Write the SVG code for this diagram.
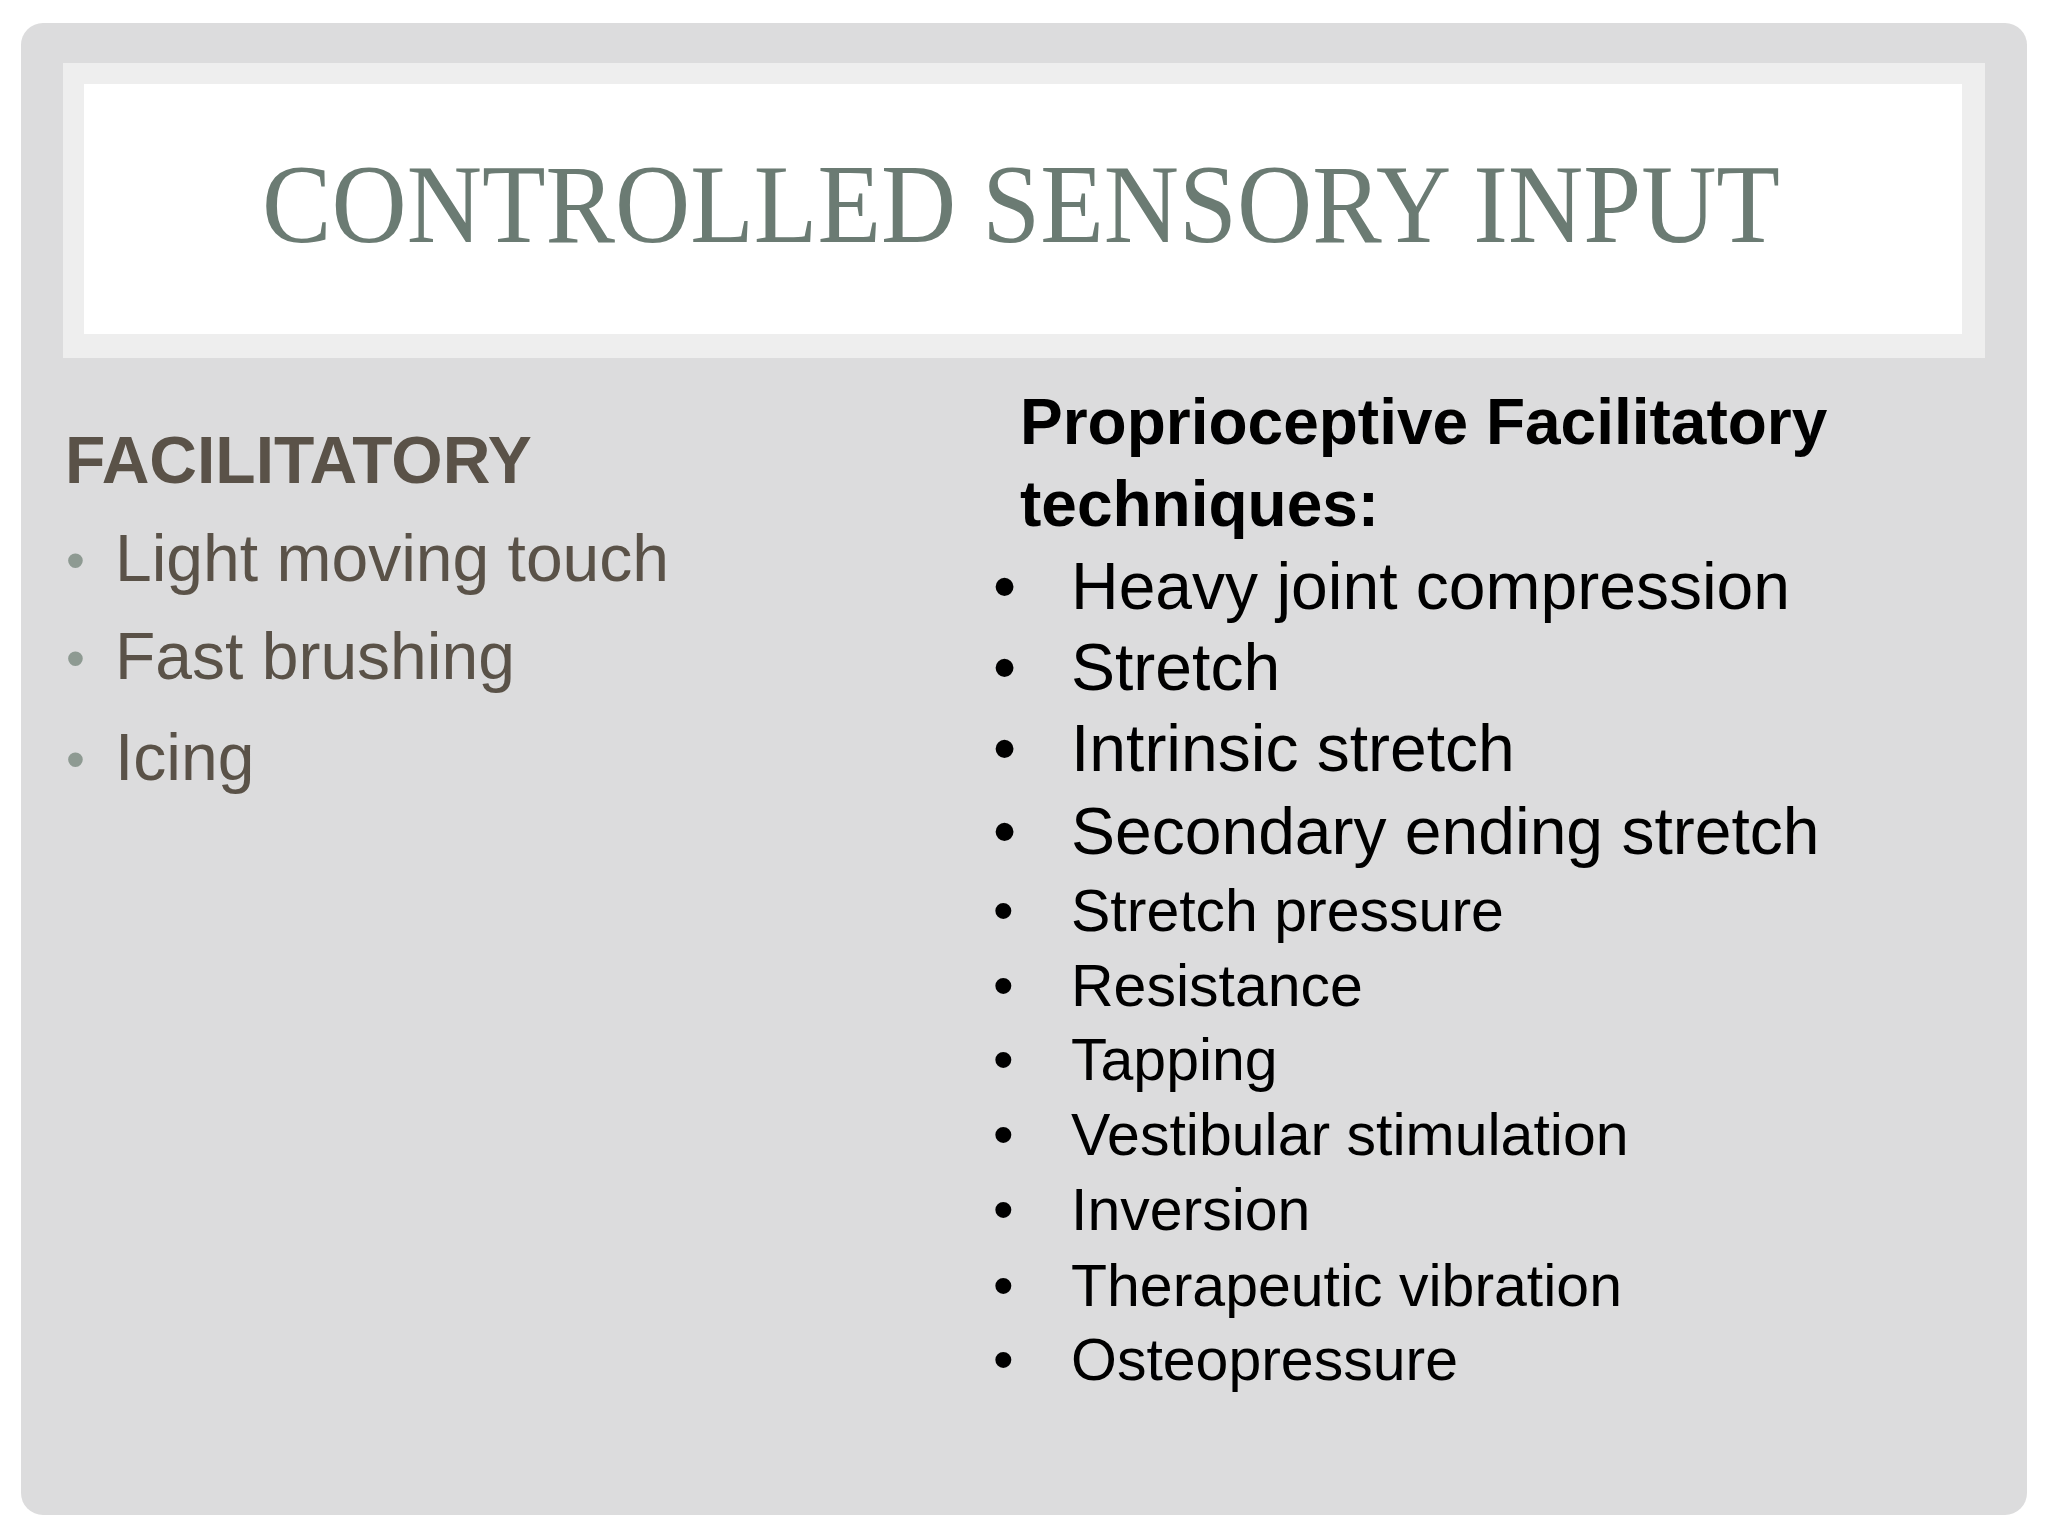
<svg xmlns="http://www.w3.org/2000/svg" width="2048" height="1536" viewBox="0 0 2048 1536">
<style>
.l{font-family:"Liberation Sans",Arial,sans-serif;fill:#5a5248;font-size:66px}
.lb{font-family:"Liberation Sans",Arial,sans-serif;fill:#8e9a92;font-size:54px}
.r{font-family:"Liberation Sans",Arial,sans-serif;fill:#000}
</style>
<rect width="2048" height="1536" fill="#fff"/>
<rect x="21" y="23" width="2006" height="1492" rx="22" fill="#dcdcdd"/>
<rect x="63" y="63" width="1922" height="295" fill="#eeeeee"/>
<rect x="84" y="84" width="1878" height="250" fill="#fff"/>
<g id="title"><text x="1021" y="242" text-anchor="middle" font-family="Liberation Serif,Times New Roman,serif" font-size="112" fill="#6b7b73" textLength="1518" lengthAdjust="spacingAndGlyphs">CONTROLLED SENSORY INPUT</text></g>
<g id="left">
<text x="65" y="483" font-family="Liberation Sans,Arial,sans-serif" font-weight="bold" font-size="66" fill="#5a5248">FACILITATORY</text>
<text x="66" y="579" class="lb">•</text><text x="115" y="581" class="l">Light moving touch</text>
<text x="66" y="677" class="lb">•</text><text x="115" y="679" class="l">Fast brushing</text>
<text x="66" y="778" class="lb">•</text><text x="115" y="780" class="l">Icing</text>
</g>
<g id="right">
<text x="1020" y="444" class="r" font-weight="bold" font-size="64">Proprioceptive Facilitatory</text>
<text x="1020" y="526" class="r" font-weight="bold" font-size="64">techniques:</text>
<g font-size="66" class="r">
<text x="993" y="609" class="r">•</text><text x="1071" y="609" class="r">Heavy joint compression</text>
<text x="993" y="690" class="r">•</text><text x="1071" y="690" class="r">Stretch</text>
<text x="993" y="771" class="r">•</text><text x="1071" y="771" class="r">Intrinsic stretch</text>
<text x="993" y="854" class="r">•</text><text x="1071" y="854" class="r">Secondary ending stretch</text>
</g>
<g font-size="59">
<text x="993" y="931" class="r">•</text><text x="1071" y="931" class="r">Stretch pressure</text>
<text x="993" y="1006" class="r">•</text><text x="1071" y="1006" class="r">Resistance</text>
<text x="993" y="1080" class="r">•</text><text x="1071" y="1080" class="r">Tapping</text>
<text x="993" y="1155" class="r">•</text><text x="1071" y="1155" class="r">Vestibular stimulation</text>
<text x="993" y="1230" class="r">•</text><text x="1071" y="1230" class="r">Inversion</text>
<text x="993" y="1306" class="r">•</text><text x="1071" y="1306" class="r">Therapeutic vibration</text>
<text x="993" y="1380" class="r">•</text><text x="1071" y="1380" class="r">Osteopressure</text>
</g>
</g>
</svg>
